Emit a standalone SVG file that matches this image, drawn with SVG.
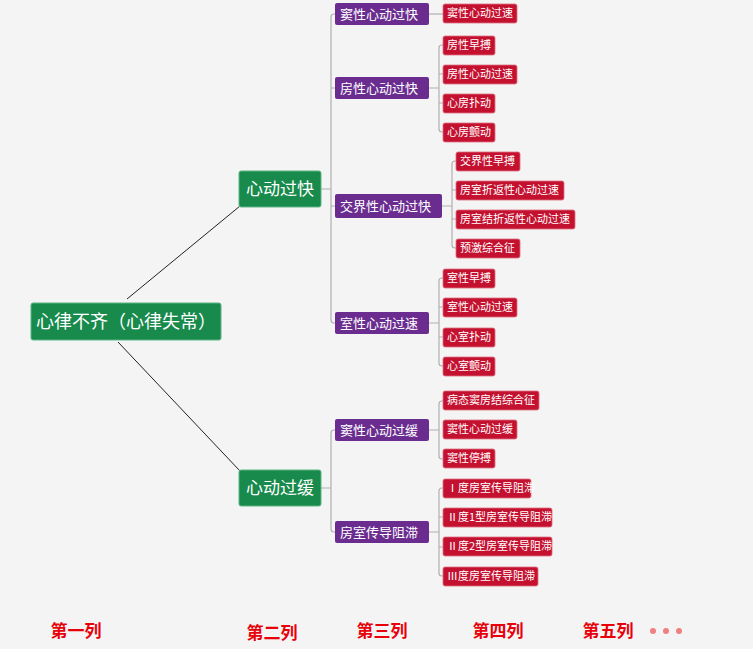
<svg xmlns="http://www.w3.org/2000/svg" width="753" height="649" viewBox="0 0 753 649">
<style>
text{font-family:"Noto Sans CJK SC","Noto Sans",sans-serif;fill:#fff}
.g{fill:#178a4c;stroke:#5fb585;stroke-width:1}
.p{fill:#6a2d8f}
.r{fill:#c4112f;stroke:#e07080;stroke-width:.8}
.t2{font-size:17px}
.t3{font-size:13px}
.t4{font-size:11px}
.c{fill:none;stroke:#b0b0b0;stroke-width:1.2}
.k{stroke:#222;stroke-width:1}
.f{fill:#e8000b;font-size:17px;font-weight:bold;text-anchor:middle}
</style>
<rect width="753" height="649" fill="#f4f4f4"/>
<g id="connectors">
<line class="k" x1="127" y1="299" x2="240" y2="206"/>
<line class="k" x1="118" y1="342" x2="240" y2="471"/>
<path class="c" d="M321 189H331M335 14H334Q331 14 331 17V320Q331 323 334 323H335M331 88H335M331 206H335"/>
<path class="c" d="M321 488H331M335 430H334Q331 430 331 433V529Q331 532 334 532H335"/>
<path class="c" d="M429 14H443"/>
<path class="c" d="M429 88H439M443 45H442Q439 45 439 48V129Q439 132 442 132H443M439 74H443M439 103H443"/>
<path class="c" d="M442 206H452M456 161H455Q452 161 452 164V245Q452 248 455 248H456M452 190H456M452 219H456"/>
<path class="c" d="M429 323H439M443 278H442Q439 278 439 281V363Q439 366 442 366H443M439 307H443M439 337H443"/>
<path class="c" d="M429 430H439M443 401H442Q439 401 439 404V456Q439 459 442 459H443"/>
<path class="c" d="M429 532H439M443 488H442Q439 488 439 491V573Q439 576 442 576H443M439 517H443M439 547H443"/>
</g>
<g id="root"><rect class="g" x="31" y="303" width="190" height="37" rx="2"/><text x="126" y="328" font-size="18" text-anchor="middle">心律不齐（心律失常）</text></g>
<g id="n-fast"><rect class="g" x="239" y="171" width="82" height="36" rx="2"/><text class="t2" x="280" y="195" text-anchor="middle">心动过快</text></g>
<g id="n-slow"><rect class="g" x="239" y="470" width="82" height="36" rx="2"/><text class="t2" x="280" y="494" text-anchor="middle">心动过缓</text></g>
<g id="p1"><rect class="p" x="335" y="3" width="94" height="22" rx="2"/><text class="t3" x="340" y="19">窦性心动过快</text></g>
<g id="p2"><rect class="p" x="335" y="77" width="94" height="22" rx="2"/><text class="t3" x="340" y="93">房性心动过快</text></g>
<g id="p3"><rect class="p" x="335" y="194" width="107" height="24" rx="2"/><text class="t3" x="340" y="211">交界性心动过快</text></g>
<g id="p4"><rect class="p" x="335" y="312" width="94" height="22" rx="2"/><text class="t3" x="340" y="328">室性心动过速</text></g>
<g id="p5"><rect class="p" x="335" y="419" width="94" height="22" rx="2"/><text class="t3" x="340" y="435">窦性心动过缓</text></g>
<g id="p6"><rect class="p" x="335" y="521" width="94" height="22" rx="2"/><text class="t3" x="340" y="537">房室传导阻滞</text></g>
<g id="r1"><rect class="r" x="443" y="4" width="74" height="19" rx="2"/><text class="t4" x="447" y="17">窦性心动过速</text></g>
<g id="r2"><rect class="r" x="443" y="36" width="52" height="19" rx="2"/><text class="t4" x="447" y="49">房性早搏</text></g>
<g id="r3"><rect class="r" x="443" y="65" width="74" height="19" rx="2"/><text class="t4" x="447" y="78">房性心动过速</text></g>
<g id="r4"><rect class="r" x="443" y="94" width="52" height="19" rx="2"/><text class="t4" x="447" y="107">心房扑动</text></g>
<g id="r5"><rect class="r" x="443" y="123" width="52" height="19" rx="2"/><text class="t4" x="447" y="136">心房颤动</text></g>
<g id="r6"><rect class="r" x="456" y="152" width="64" height="19" rx="2"/><text class="t4" x="460" y="165">交界性早搏</text></g>
<g id="r7"><rect class="r" x="456" y="181" width="108" height="19" rx="2"/><text class="t4" x="460" y="194">房室折返性心动过速</text></g>
<g id="r8"><rect class="r" x="456" y="210" width="119" height="19" rx="2"/><text class="t4" x="460" y="223">房室结折返性心动过速</text></g>
<g id="r9"><rect class="r" x="456" y="239" width="64" height="19" rx="2"/><text class="t4" x="460" y="252">预激综合征</text></g>
<g id="r10"><rect class="r" x="443" y="269" width="52" height="19" rx="2"/><text class="t4" x="447" y="282">室性早搏</text></g>
<g id="r11"><rect class="r" x="443" y="298" width="74" height="19" rx="2"/><text class="t4" x="447" y="311">室性心动过速</text></g>
<g id="r12"><rect class="r" x="443" y="328" width="52" height="19" rx="2"/><text class="t4" x="447" y="341">心室扑动</text></g>
<g id="r13"><rect class="r" x="443" y="357" width="52" height="19" rx="2"/><text class="t4" x="447" y="370">心室颤动</text></g>
<g id="r14"><rect class="r" x="443" y="391" width="96" height="19" rx="2"/><text class="t4" x="447" y="404">病态窦房结综合征</text></g>
<g id="r15"><rect class="r" x="443" y="420" width="74" height="19" rx="2"/><text class="t4" x="447" y="433">窦性心动过缓</text></g>
<g id="r16"><rect class="r" x="443" y="449" width="52" height="19" rx="2"/><text class="t4" x="447" y="462">窦性停搏</text></g>
<g id="r17"><rect class="r" x="443" y="479" width="88" height="19" rx="2"/><text class="t4" x="447" y="492">Ⅰ度房室传导阻滞</text></g>
<g id="r18"><rect class="r" x="443" y="508" width="109" height="19" rx="2"/><text class="t4" x="447" y="521">Ⅱ度1型房室传导阻滞</text></g>
<g id="r19"><rect class="r" x="443" y="537" width="109" height="19" rx="2"/><text class="t4" x="447" y="550">Ⅱ度2型房室传导阻滞</text></g>
<g id="r20"><rect class="r" x="443" y="567" width="95" height="19" rx="2"/><text class="t4" x="447" y="580">Ⅲ度房室传导阻滞</text></g>
<g id="footer">
<text class="f" x="76" y="637">第一列</text>
<text class="f" x="272" y="639">第二列</text>
<text class="f" x="382" y="637">第三列</text>
<text class="f" x="498" y="637">第四列</text>
<text class="f" x="608" y="637">第五列</text>
<circle cx="653" cy="631" r="3" fill="#f08080"/><circle cx="666" cy="631" r="3" fill="#f08080"/><circle cx="679" cy="631" r="3" fill="#f08080"/>
</g>
</svg>
